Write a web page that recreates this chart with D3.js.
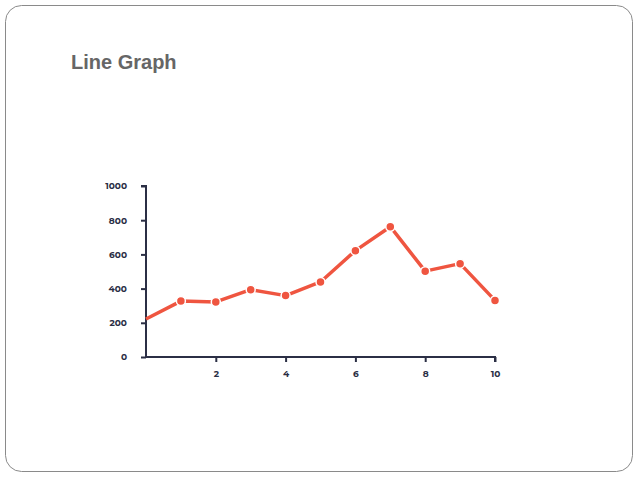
<!DOCTYPE html>
<html><head><meta charset="utf-8">
<script src="https://cdn.jsdelivr.net/npm/d3@7"></script>
<style>body{margin:0;background:#fff}</style>
</head><body>
<script>
const xValues = [0, 1, 2, 3, 4, 5, 6, 7, 8, 9, 10];
const yValues = [222, 327, 322, 394, 359, 439, 622, 762, 502, 546, 331];
const yTicks = [0, 200, 400, 600, 800, 1000];
const xTicks = [2, 4, 6, 8, 10];

const svg = d3.select('body').append('svg').attr('width', 638).attr('height', 478);
svg.append('rect').attr('x', 5.5).attr('y', 5.5).attr('width', 627).attr('height', 466)
  .attr('rx', 16).attr('fill', '#fff').attr('stroke', '#8a8a8a').attr('stroke-width', 1);
svg.append('text').attr('x', 71).attr('y', 69).text('Line Graph')
  .attr('font-family', 'Liberation Sans, Arial, sans-serif').attr('font-weight', 'bold')
  .attr('font-size', 20).attr('fill', '#666');

const x = d3.scaleLinear().domain([0, 10]).range([146, 495]);
const y = d3.scaleLinear().domain([0, 1000]).range([357, 186]);
const axisColor = '#2b2f45';
const font = 'Montserrat, DejaVu Sans, sans-serif';

const gy = svg.append('g').attr('transform', 'translate(146,0)')
  .call(d3.axisLeft(y).tickValues(yTicks).tickFormat(d3.format('d')).tickSize(5).tickPadding(14));
const gx = svg.append('g').attr('transform', 'translate(0,357)')
  .call(d3.axisBottom(x).tickValues(xTicks).tickFormat(d3.format('d')).tickSize(5).tickPadding(9));
[gx, gy].forEach(g => {
  g.select('.domain').attr('stroke', axisColor).attr('stroke-width', 2)
    .attr('d', g === gx ? 'M146,0H495V5' : 'M-5,186H0V357');
  g.selectAll('.tick line').attr('stroke', axisColor).attr('stroke-width', 2);
  g.selectAll('.tick text').attr('fill', axisColor).attr('font-family', font)
    .attr('font-weight', 'bold').attr('font-size', 9);
});

const data = xValues.map((v, i) => ({x: v, y: yValues[i]}));
svg.append('path').attr('d', d3.line().x(d => x(d.x)).y(d => y(d.y))(data))
  .attr('fill', 'none').attr('stroke', '#ef5540').attr('stroke-width', 3.5)
  .attr('stroke-linejoin', 'round');
svg.selectAll('circle').data(data.slice(1)).join('circle')
  .attr('cx', d => x(d.x)).attr('cy', d => y(d.y)).attr('r', 4.5)
  .attr('fill', '#ef5540').attr('stroke', '#fff').attr('stroke-width', 1.5);
</script>
</body></html>
